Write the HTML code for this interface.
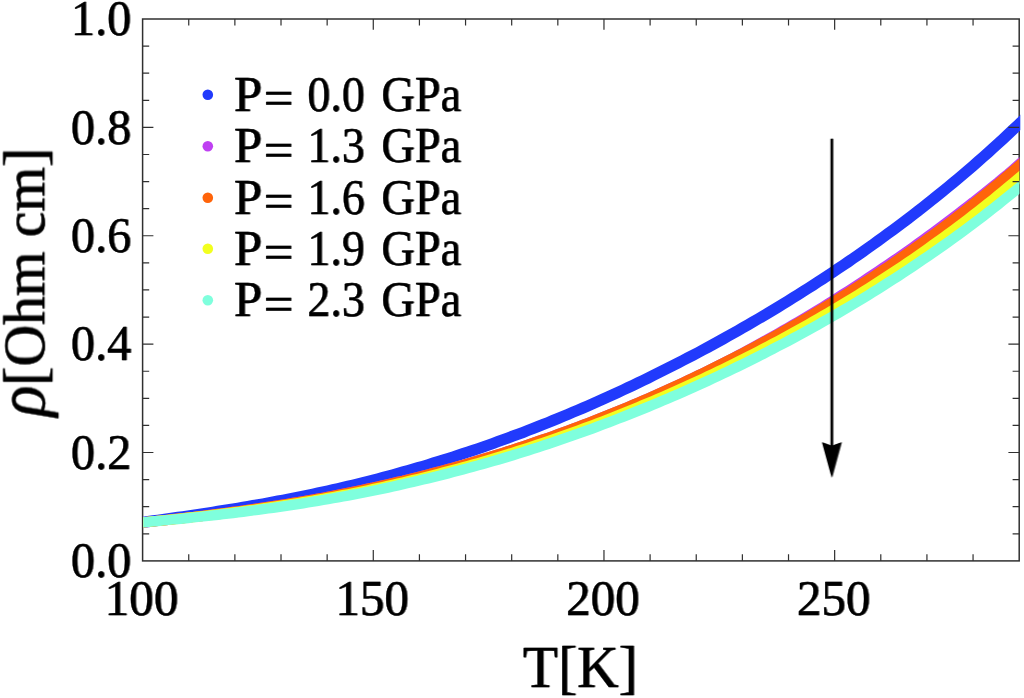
<!DOCTYPE html>
<html><head><meta charset="utf-8"><title>Resistivity vs temperature</title>
<style>
html,body{margin:0;padding:0;background:#fff;}
body{width:1024px;height:698px;overflow:hidden;position:relative;}
svg{position:absolute;left:0;top:0;display:block;}
text{font-family:"Liberation Serif",serif;fill:#000;stroke:#000;stroke-width:0.4px;stroke-linejoin:round;}
.tk{font-size:49.7px;}
.lg{font-size:51px;}
.ax{font-size:60px;}
.axx{font-size:60px;}
</style></head><body>
<svg width="1024" height="698" viewBox="0 0 1024 698">
<rect width="1024" height="698" fill="#fff"/>
<defs><clipPath id="cq"><rect x="143.2" y="19.0" width="876.2" height="541.9"/></clipPath><filter id="hb" x="-5%" y="-5%" width="110%" height="110%" color-interpolation-filters="sRGB"><feOffset in="SourceGraphic" dx="1" dy="0" result="a"/><feComponentTransfer in="a" result="a2"><feFuncA type="linear" slope="0.5"/></feComponentTransfer><feMerge><feMergeNode in="a2"/><feMergeNode in="SourceGraphic"/></feMerge></filter><clipPath id="cp"><rect x="143.2" y="19.0" width="877.1" height="541.9"/></clipPath></defs>
<rect x="142.6" y="19.0" width="876.6" height="541.9" fill="none" stroke="#303030" stroke-width="1.5"/>
<g fill="none" stroke-linejoin="round" stroke-linecap="butt">
<path d="M128.0,524.3 L133.0,523.6 L138.0,523.0 L143.0,522.3 L148.0,521.6 L153.0,520.9 L158.0,520.2 L163.0,519.5 L168.0,518.8 L173.0,518.1 L178.0,517.4 L183.0,516.7 L188.0,516.0 L193.0,515.2 L198.0,514.5 L203.0,513.7 L208.0,513.0 L213.0,512.2 L218.0,511.4 L223.0,510.6 L228.0,509.8 L233.0,509.0 L238.0,508.2 L243.0,507.4 L248.0,506.5 L253.0,505.6 L258.0,504.8 L263.0,503.9 L268.0,503.0 L273.0,502.1 L278.0,501.1 L283.0,500.2 L288.0,499.2 L293.0,498.2 L298.0,497.2 L303.0,496.2 L308.0,495.2 L313.0,494.1 L318.0,493.0 L323.0,492.0 L328.0,490.9 L333.0,489.7 L338.0,488.6 L343.0,487.4 L348.0,486.3 L353.0,485.1 L358.0,483.9 L363.0,482.6 L368.0,481.4 L373.0,480.1 L378.0,478.8 L383.0,477.5 L388.0,476.2 L393.0,474.8 L398.0,473.4 L403.0,472.0 L408.0,470.6 L413.0,469.2 L418.0,467.7 L423.0,466.3 L428.0,464.8 L433.0,463.2 L438.0,461.7 L443.0,460.1 L448.0,458.6 L453.0,457.0 L458.0,455.3 L463.0,453.7 L468.0,452.0 L473.0,450.4 L478.0,448.7 L483.0,446.9 L488.0,445.2 L493.0,443.4 L498.0,441.6 L503.0,439.8 L508.0,438.0 L513.0,436.1 L518.0,434.3 L523.0,432.4 L528.0,430.4 L533.0,428.5 L538.0,426.5 L543.0,424.6 L548.0,422.6 L553.0,420.5 L558.0,418.5 L563.0,416.4 L568.0,414.3 L573.0,412.2 L578.0,410.1 L583.0,408.0 L588.0,405.8 L593.0,403.6 L598.0,401.4 L603.0,399.1 L608.0,396.9 L613.0,394.6 L618.0,392.3 L623.0,390.0 L628.0,387.6 L633.0,385.3 L638.0,382.9 L643.0,380.5 L648.0,378.1 L653.0,375.6 L658.0,373.1 L663.0,370.6 L668.0,368.1 L673.0,365.6 L678.0,363.0 L683.0,360.4 L688.0,357.8 L693.0,355.2 L698.0,352.6 L703.0,349.9 L708.0,347.2 L713.0,344.5 L718.0,341.8 L723.0,339.0 L728.0,336.2 L733.0,333.4 L738.0,330.6 L743.0,327.7 L748.0,324.8 L753.0,321.9 L758.0,319.0 L763.0,316.1 L768.0,313.1 L773.0,310.1 L778.0,307.1 L783.0,304.0 L788.0,300.9 L793.0,297.8 L798.0,294.7 L803.0,291.6 L808.0,288.4 L813.0,285.2 L818.0,281.9 L823.0,278.7 L828.0,275.4 L833.0,272.1 L838.0,268.7 L843.0,265.4 L848.0,262.0 L853.0,258.5 L858.0,255.1 L863.0,251.6 L868.0,248.0 L873.0,244.5 L878.0,240.9 L883.0,237.3 L888.0,233.6 L893.0,229.9 L898.0,226.2 L903.0,222.5 L908.0,218.7 L913.0,214.8 L918.0,211.0 L923.0,207.1 L928.0,203.1 L933.0,199.2 L938.0,195.1 L943.0,191.1 L948.0,187.0 L953.0,182.9 L958.0,178.7 L963.0,174.5 L968.0,170.2 L973.0,165.9 L978.0,161.5 L983.0,157.1 L988.0,152.7 L993.0,148.2 L998.0,143.7 L1003.0,139.1 L1008.0,134.4 L1013.0,129.7 L1018.0,125.0 L1023.0,120.2 L1028.0,115.3 L1033.0,110.4 L1036.0,107.5" stroke="#213afc" stroke-width="11.2" clip-path="url(#cp)"/>
<path d="M128.0,523.7 L133.0,523.2 L138.0,522.8 L143.0,522.3 L148.0,521.9 L153.0,521.4 L158.0,520.9 L163.0,520.3 L168.0,519.8 L173.0,519.2 L178.0,518.7 L183.0,518.1 L188.0,517.5 L193.0,517.0 L198.0,516.4 L203.0,515.8 L208.0,515.2 L213.0,514.5 L218.0,513.9 L223.0,513.3 L228.0,512.6 L233.0,511.9 L238.0,511.3 L243.0,510.6 L248.0,509.9 L253.0,509.1 L258.0,508.4 L263.0,507.7 L268.0,506.9 L273.0,506.1 L278.0,505.4 L283.0,504.6 L288.0,503.8 L293.0,502.9 L298.0,502.1 L303.0,501.2 L308.0,500.4 L313.0,499.5 L318.0,498.6 L323.0,497.7 L328.0,496.7 L333.0,495.8 L338.0,494.8 L343.0,493.8 L348.0,492.8 L353.0,491.8 L358.0,490.8 L363.0,489.7 L368.0,488.6 L373.0,487.6 L378.0,486.4 L383.0,485.3 L388.0,484.2 L393.0,483.0 L398.0,481.8 L403.0,480.7 L408.0,479.4 L413.0,478.2 L418.0,477.0 L423.0,475.7 L428.0,474.4 L433.0,473.1 L438.0,471.8 L443.0,470.4 L448.0,469.1 L453.0,467.7 L458.0,466.3 L463.0,464.9 L468.0,463.4 L473.0,462.0 L478.0,460.5 L483.0,459.0 L488.0,457.5 L493.0,456.0 L498.0,454.4 L503.0,452.8 L508.0,451.2 L513.0,449.6 L518.0,448.0 L523.0,446.3 L528.0,444.7 L533.0,443.0 L538.0,441.2 L543.0,439.5 L548.0,437.8 L553.0,436.0 L558.0,434.2 L563.0,432.4 L568.0,430.5 L573.0,428.7 L578.0,426.8 L583.0,424.9 L588.0,423.0 L593.0,421.1 L598.0,419.1 L603.0,417.1 L608.0,415.1 L613.0,413.1 L618.0,411.1 L623.0,409.0 L628.0,406.9 L633.0,404.8 L638.0,402.7 L643.0,400.6 L648.0,398.4 L653.0,396.2 L658.0,394.0 L663.0,391.8 L668.0,389.5 L673.0,387.2 L678.0,384.9 L683.0,382.6 L688.0,380.3 L693.0,377.9 L698.0,375.5 L703.0,373.1 L708.0,370.7 L713.0,368.2 L718.0,365.7 L723.0,363.2 L728.0,360.6 L733.0,358.0 L738.0,355.4 L743.0,352.7 L748.0,350.0 L753.0,347.3 L758.0,344.6 L763.0,341.8 L768.0,339.0 L773.0,336.2 L778.0,333.4 L783.0,330.5 L788.0,327.7 L793.0,324.8 L798.0,321.8 L803.0,318.9 L808.0,315.9 L813.0,312.9 L818.0,309.8 L823.0,306.8 L828.0,303.7 L833.0,300.6 L838.0,297.4 L843.0,294.2 L848.0,291.0 L853.0,287.8 L858.0,284.5 L863.0,281.2 L868.0,277.9 L873.0,274.6 L878.0,271.2 L883.0,267.8 L888.0,264.5 L893.0,261.1 L898.0,257.6 L903.0,254.1 L908.0,250.6 L913.0,247.1 L918.0,243.5 L923.0,239.9 L928.0,236.3 L933.0,232.6 L938.0,228.9 L943.0,225.2 L948.0,221.4 L953.0,217.6 L958.0,213.7 L963.0,209.9 L968.0,206.0 L973.0,202.2 L978.0,198.2 L983.0,194.3 L988.0,190.3 L993.0,186.2 L998.0,182.2 L1003.0,178.0 L1008.0,173.9 L1013.0,169.6 L1018.0,165.2 L1023.0,160.8 L1028.0,156.4 L1033.0,151.9 L1036.0,149.2" stroke="#bf40f2" stroke-width="10.3" clip-path="url(#cq)"/>
<path d="M128.0,523.7 L133.0,523.2 L138.0,522.8 L143.0,522.3 L148.0,521.9 L153.0,521.4 L158.0,520.9 L163.0,520.3 L168.0,519.8 L173.0,519.2 L178.0,518.7 L183.0,518.1 L188.0,517.5 L193.0,517.0 L198.0,516.4 L203.0,515.8 L208.0,515.2 L213.0,514.5 L218.0,513.9 L223.0,513.3 L228.0,512.6 L233.0,511.9 L238.0,511.3 L243.0,510.6 L248.0,509.9 L253.0,509.1 L258.0,508.4 L263.0,507.7 L268.0,506.9 L273.0,506.1 L278.0,505.4 L283.0,504.6 L288.0,503.8 L293.0,502.9 L298.0,502.1 L303.0,501.2 L308.0,500.4 L313.0,499.5 L318.0,498.6 L323.0,497.7 L328.0,496.7 L333.0,495.8 L338.0,494.8 L343.0,493.8 L348.0,492.8 L353.0,491.8 L358.0,490.8 L363.0,489.7 L368.0,488.6 L373.0,487.6 L378.0,486.4 L383.0,485.3 L388.0,484.2 L393.0,483.0 L398.0,481.8 L403.0,480.7 L408.0,479.4 L413.0,478.2 L418.0,477.0 L423.0,475.7 L428.0,474.4 L433.0,473.1 L438.0,471.8 L443.0,470.4 L448.0,469.1 L453.0,467.7 L458.0,466.3 L463.0,464.9 L468.0,463.4 L473.0,462.0 L478.0,460.5 L483.0,459.0 L488.0,457.5 L493.0,456.0 L498.0,454.4 L503.0,452.8 L508.0,451.2 L513.0,449.6 L518.0,448.0 L523.0,446.3 L528.0,444.7 L533.0,443.0 L538.0,441.2 L543.0,439.5 L548.0,437.8 L553.0,436.0 L558.0,434.2 L563.0,432.4 L568.0,430.5 L573.0,428.7 L578.0,426.8 L583.0,424.9 L588.0,423.0 L593.0,421.1 L598.0,419.1 L603.0,417.1 L608.0,415.1 L613.0,413.1 L618.0,411.1 L623.0,409.0 L628.0,406.9 L633.0,404.8 L638.0,402.7 L643.0,400.6 L648.0,398.4 L653.0,396.2 L658.0,394.0 L663.0,391.8 L668.0,389.5 L673.0,387.2 L678.0,384.9 L683.0,382.6 L688.0,380.3 L693.0,377.9 L698.0,375.5 L703.0,373.1 L708.0,370.7 L713.0,368.2 L718.0,365.7 L723.0,363.2 L728.0,360.7 L733.0,358.2 L738.0,355.6 L743.0,353.0 L748.0,350.4 L753.0,347.8 L758.0,345.1 L763.0,342.4 L768.0,339.7 L773.0,337.0 L778.0,334.2 L783.0,331.4 L788.0,328.6 L793.0,325.8 L798.0,322.9 L803.0,320.0 L808.0,317.1 L813.0,314.2 L818.0,311.2 L823.0,308.2 L828.0,305.2 L833.0,302.1 L838.0,299.0 L843.0,295.9 L848.0,292.8 L853.0,289.6 L858.0,286.4 L863.0,283.2 L868.0,280.0 L873.0,276.7 L878.0,273.4 L883.0,270.0 L888.0,266.7 L893.0,263.3 L898.0,259.8 L903.0,256.3 L908.0,252.8 L913.0,249.3 L918.0,245.7 L923.0,242.1 L928.0,238.5 L933.0,234.8 L938.0,231.1 L943.0,227.4 L948.0,223.6 L953.0,219.8 L958.0,215.9 L963.0,212.0 L968.0,208.1 L973.0,204.1 L978.0,200.1 L983.0,196.1 L988.0,192.0 L993.0,187.8 L998.0,183.7 L1003.0,179.5 L1008.0,175.2 L1013.0,170.9 L1018.0,166.5 L1023.0,162.1 L1028.0,157.7 L1033.0,153.2 L1036.0,150.5" stroke="#ff640a" stroke-width="10.3" clip-path="url(#cq)"/>
<path d="M128.0,523.7 L133.0,523.2 L138.0,522.8 L143.0,522.3 L148.0,521.9 L153.0,521.4 L158.0,520.9 L163.0,520.4 L168.0,519.8 L173.0,519.3 L178.0,518.8 L183.0,518.3 L188.0,517.7 L193.0,517.2 L198.0,516.6 L203.0,516.0 L208.0,515.5 L213.0,514.9 L218.0,514.3 L223.0,513.7 L228.0,513.0 L233.0,512.4 L238.0,511.8 L243.0,511.1 L248.0,510.4 L253.0,509.8 L258.0,509.1 L263.0,508.4 L268.0,507.6 L273.0,506.9 L278.0,506.2 L283.0,505.4 L288.0,504.6 L293.0,503.8 L298.0,503.0 L303.0,502.2 L308.0,501.4 L313.0,500.5 L318.0,499.7 L323.0,498.8 L328.0,497.9 L333.0,497.0 L338.0,496.1 L343.0,495.1 L348.0,494.2 L353.0,493.2 L358.0,492.2 L363.0,491.2 L368.0,490.2 L373.0,489.1 L378.0,488.0 L383.0,487.0 L388.0,485.9 L393.0,484.8 L398.0,483.6 L403.0,482.5 L408.0,481.3 L413.0,480.1 L418.0,478.9 L423.0,477.7 L428.0,476.5 L433.0,475.2 L438.0,473.9 L443.0,472.6 L448.0,471.3 L453.0,470.0 L458.0,468.6 L463.0,467.3 L468.0,465.9 L473.0,464.5 L478.0,463.1 L483.0,461.6 L488.0,460.2 L493.0,458.7 L498.0,457.2 L503.0,455.7 L508.0,454.1 L513.0,452.6 L518.0,451.0 L523.0,449.4 L528.0,447.8 L533.0,446.1 L538.0,444.5 L543.0,442.8 L548.0,441.1 L553.0,439.4 L558.0,437.7 L563.0,435.9 L568.0,434.1 L573.0,432.3 L578.0,430.5 L583.0,428.7 L588.0,426.8 L593.0,425.0 L598.0,423.1 L603.0,421.2 L608.0,419.2 L613.0,417.3 L618.0,415.3 L623.0,413.3 L628.0,411.3 L633.0,409.3 L638.0,407.2 L643.0,405.1 L648.0,403.0 L653.0,400.9 L658.0,398.8 L663.0,396.6 L668.0,394.4 L673.0,392.2 L678.0,390.0 L683.0,387.8 L688.0,385.5 L693.0,383.2 L698.0,380.9 L703.0,378.6 L708.0,376.2 L713.0,373.9 L718.0,371.5 L723.0,369.1 L728.0,366.6 L733.0,364.2 L738.0,361.7 L743.0,359.2 L748.0,356.6 L753.0,354.1 L758.0,351.5 L763.0,348.9 L768.0,346.3 L773.0,343.6 L778.0,341.0 L783.0,338.3 L788.0,335.6 L793.0,332.8 L798.0,330.0 L803.0,327.2 L808.0,324.4 L813.0,321.6 L818.0,318.7 L823.0,315.8 L828.0,312.9 L833.0,309.9 L838.0,307.0 L843.0,304.0 L848.0,300.9 L853.0,297.9 L858.0,294.8 L863.0,291.7 L868.0,288.5 L873.0,285.3 L878.0,282.1 L883.0,278.9 L888.0,275.6 L893.0,272.3 L898.0,269.0 L903.0,265.7 L908.0,262.3 L913.0,258.9 L918.0,255.4 L923.0,251.9 L928.0,248.4 L933.0,244.8 L938.0,241.2 L943.0,237.6 L948.0,234.0 L953.0,230.3 L958.0,226.5 L963.0,222.8 L968.0,219.0 L973.0,215.1 L978.0,211.2 L983.0,207.3 L988.0,203.4 L993.0,199.4 L998.0,195.3 L1003.0,191.2 L1008.0,187.1 L1013.0,182.9 L1018.0,178.7 L1023.0,174.5 L1028.0,170.2 L1033.0,165.8 L1036.0,163.2" stroke="#f2ff1f" stroke-width="10.3" clip-path="url(#cq)"/>
<path d="M128.0,523.7 L133.0,523.2 L138.0,522.8 L143.0,522.3 L148.0,521.9 L153.0,521.4 L158.0,521.0 L163.0,520.5 L168.0,520.0 L173.0,519.5 L178.0,519.1 L183.0,518.6 L188.0,518.1 L193.0,517.5 L198.0,517.0 L203.0,516.5 L208.0,515.9 L213.0,515.4 L218.0,514.8 L223.0,514.2 L228.0,513.7 L233.0,513.1 L238.0,512.4 L243.0,511.8 L248.0,511.2 L253.0,510.5 L258.0,509.9 L263.0,509.2 L268.0,508.5 L273.0,507.8 L278.0,507.1 L283.0,506.4 L288.0,505.6 L293.0,504.9 L298.0,504.1 L303.0,503.3 L308.0,502.5 L313.0,501.7 L318.0,500.9 L323.0,500.0 L328.0,499.2 L333.0,498.3 L338.0,497.4 L343.0,496.5 L348.0,495.6 L353.0,494.6 L358.0,493.7 L363.0,492.7 L368.0,491.7 L373.0,490.7 L378.0,489.7 L383.0,488.6 L388.0,487.6 L393.0,486.5 L398.0,485.4 L403.0,484.3 L408.0,483.1 L413.0,482.0 L418.0,480.8 L423.0,479.6 L428.0,478.4 L433.0,477.2 L438.0,476.0 L443.0,474.7 L448.0,473.4 L453.0,472.1 L458.0,470.8 L463.0,469.5 L468.0,468.1 L473.0,466.8 L478.0,465.4 L483.0,464.0 L488.0,462.6 L493.0,461.1 L498.0,459.7 L503.0,458.2 L508.0,456.7 L513.0,455.2 L518.0,453.6 L523.0,452.1 L528.0,450.5 L533.0,448.9 L538.0,447.3 L543.0,445.6 L548.0,444.0 L553.0,442.3 L558.0,440.6 L563.0,438.9 L568.0,437.2 L573.0,435.4 L578.0,433.7 L583.0,431.9 L588.0,430.1 L593.0,428.3 L598.0,426.4 L603.0,424.5 L608.0,422.7 L613.0,420.7 L618.0,418.8 L623.0,416.9 L628.0,414.9 L633.0,412.9 L638.0,410.9 L643.0,408.9 L648.0,406.9 L653.0,404.8 L658.0,402.7 L663.0,400.6 L668.0,398.5 L673.0,396.3 L678.0,394.2 L683.0,392.0 L688.0,389.8 L693.0,387.5 L698.0,385.3 L703.0,383.0 L708.0,380.7 L713.0,378.4 L718.0,376.1 L723.0,373.7 L728.0,371.3 L733.0,368.9 L738.0,366.5 L743.0,364.1 L748.0,361.6 L753.0,359.1 L758.0,356.6 L763.0,354.1 L768.0,351.5 L773.0,348.9 L778.0,346.3 L783.0,343.7 L788.0,341.1 L793.0,338.4 L798.0,335.7 L803.0,333.0 L808.0,330.2 L813.0,327.5 L818.0,324.7 L823.0,321.8 L828.0,319.0 L833.0,316.1 L838.0,313.2 L843.0,310.3 L848.0,307.3 L853.0,304.4 L858.0,301.4 L863.0,298.3 L868.0,295.3 L873.0,292.2 L878.0,289.1 L883.0,285.9 L888.0,282.7 L893.0,279.5 L898.0,276.3 L903.0,273.0 L908.0,269.7 L913.0,266.4 L918.0,263.0 L923.0,259.6 L928.0,256.2 L933.0,252.8 L938.0,249.3 L943.0,245.7 L948.0,242.2 L953.0,238.6 L958.0,235.0 L963.0,231.3 L968.0,227.6 L973.0,223.8 L978.0,220.1 L983.0,216.3 L988.0,212.4 L993.0,208.5 L998.0,204.6 L1003.0,200.6 L1008.0,196.6 L1013.0,192.5 L1018.0,188.4 L1023.0,184.3 L1028.0,180.1 L1033.0,175.9 L1036.0,173.3" stroke="#7fffdd" stroke-width="10.3" clip-path="url(#cq)"/>
</g>
<path d="M188.74,560.9 v-6.6 M188.74,19.0 v6.6 M234.87,560.9 v-6.6 M234.87,19.0 v6.6 M281.01,560.9 v-6.6 M281.01,19.0 v6.6 M327.15,560.9 v-6.6 M327.15,19.0 v6.6 M373.28,560.9 v-10.8 M373.28,19.0 v10.8 M419.42,560.9 v-6.6 M419.42,19.0 v6.6 M465.56,560.9 v-6.6 M465.56,19.0 v6.6 M511.69,560.9 v-6.6 M511.69,19.0 v6.6 M557.83,560.9 v-6.6 M557.83,19.0 v6.6 M603.97,560.9 v-10.8 M603.97,19.0 v10.8 M650.11,560.9 v-6.6 M650.11,19.0 v6.6 M696.24,560.9 v-6.6 M696.24,19.0 v6.6 M742.38,560.9 v-6.6 M742.38,19.0 v6.6 M788.52,560.9 v-6.6 M788.52,19.0 v6.6 M834.65,560.9 v-10.8 M834.65,19.0 v10.8 M880.79,560.9 v-6.6 M880.79,19.0 v6.6 M926.93,560.9 v-6.6 M926.93,19.0 v6.6 M973.06,560.9 v-6.6 M973.06,19.0 v6.6 M142.6,533.80 h6.6 M1019.2,533.80 h-6.6 M142.6,506.71 h6.6 M1019.2,506.71 h-6.6 M142.6,479.61 h6.6 M1019.2,479.61 h-6.6 M142.6,452.52 h10.8 M1019.2,452.52 h-10.8 M142.6,425.42 h6.6 M1019.2,425.42 h-6.6 M142.6,398.33 h6.6 M1019.2,398.33 h-6.6 M142.6,371.23 h6.6 M1019.2,371.23 h-6.6 M142.6,344.14 h10.8 M1019.2,344.14 h-10.8 M142.6,317.04 h6.6 M1019.2,317.04 h-6.6 M142.6,289.95 h6.6 M1019.2,289.95 h-6.6 M142.6,262.85 h6.6 M1019.2,262.85 h-6.6 M142.6,235.76 h10.8 M1019.2,235.76 h-10.8 M142.6,208.66 h6.6 M1019.2,208.66 h-6.6 M142.6,181.57 h6.6 M1019.2,181.57 h-6.6 M142.6,154.48 h6.6 M1019.2,154.48 h-6.6 M142.6,127.38 h10.8 M1019.2,127.38 h-10.8 M142.6,100.28 h6.6 M1019.2,100.28 h-6.6 M142.6,73.19 h6.6 M1019.2,73.19 h-6.6 M142.6,46.09 h6.6 M1019.2,46.09 h-6.6" fill="none" stroke="#303030" stroke-width="1.2"/>
<circle cx="207.8" cy="94.75" r="5.3" fill="#213afc"/><circle cx="207.8" cy="146.25" r="5.3" fill="#bf40f2"/><circle cx="207.8" cy="197.75" r="5.3" fill="#ff640a"/><circle cx="207.8" cy="248.75" r="5.3" fill="#f2ff1f"/><circle cx="207.8" cy="300.25" r="5.3" fill="#7fffdd"/>
<g filter="url(#hb)" transform="translate(-0.3,0)"><g class="tk"><text transform="translate(141.7,614.5) scale(0.988,1)" text-anchor="middle">100</text><text transform="translate(372.4,614.5) scale(0.988,1)" text-anchor="middle">150</text><text transform="translate(603.1,614.5) scale(0.988,1)" text-anchor="middle">200</text><text transform="translate(833.8,614.5) scale(0.988,1)" text-anchor="middle">250</text>
<text transform="translate(131.5,577.0) scale(0.972,1)" text-anchor="end">0.0</text><text transform="translate(131.5,468.6) scale(0.972,1)" text-anchor="end">0.2</text><text transform="translate(131.5,360.2) scale(0.972,1)" text-anchor="end">0.4</text><text transform="translate(131.5,251.9) scale(0.972,1)" text-anchor="end">0.6</text><text transform="translate(131.5,143.5) scale(0.972,1)" text-anchor="end">0.8</text><text transform="translate(131.5,35.1) scale(0.972,1)" text-anchor="end">1.0</text></g>
<g class="lg"><text x="234" y="110.5">P</text><text transform="translate(263.9,115.2) scale(1.04,1)" stroke-width="0.8">=</text><text transform="translate(307.6,110.5) scale(0.90,1)">0.0</text><text transform="translate(381.6,110.5) scale(0.907,1)">GPa</text>
<text x="234" y="162.0">P</text><text transform="translate(263.9,166.7) scale(1.04,1)" stroke-width="0.8">=</text><text transform="translate(307.6,162.0) scale(0.90,1)">1.3</text><text transform="translate(381.6,162.0) scale(0.907,1)">GPa</text>
<text x="234" y="213.5">P</text><text transform="translate(263.9,218.2) scale(1.04,1)" stroke-width="0.8">=</text><text transform="translate(307.6,213.5) scale(0.90,1)">1.6</text><text transform="translate(381.6,213.5) scale(0.907,1)">GPa</text>
<text x="234" y="264.5">P</text><text transform="translate(263.9,269.2) scale(1.04,1)" stroke-width="0.8">=</text><text transform="translate(307.6,264.5) scale(0.90,1)">1.9</text><text transform="translate(381.6,264.5) scale(0.907,1)">GPa</text>
<text x="234" y="316.0">P</text><text transform="translate(263.9,320.7) scale(1.04,1)" stroke-width="0.8">=</text><text transform="translate(307.6,316.0) scale(0.90,1)">2.3</text><text transform="translate(381.6,316.0) scale(0.907,1)">GPa</text></g>
<line x1="831.9" y1="138.7" x2="831.9" y2="450" stroke="#000" stroke-width="2.3"/>
<path d="M831.9,477.8 L822.2,442.3 L831.9,445.8 L841.6,442.3 Z" fill="#000"/>
<text class="axx" transform="translate(580.6,686.7) scale(0.958,1)" text-anchor="middle">T[K]</text></g>
<text class="ax" transform="translate(44.3,416.7) rotate(-90) scale(0.958,1)" filter="url(#hb)"><tspan font-style="italic" font-size="67">ρ</tspan>[Ohm cm]</text>
</svg>
</body></html>
